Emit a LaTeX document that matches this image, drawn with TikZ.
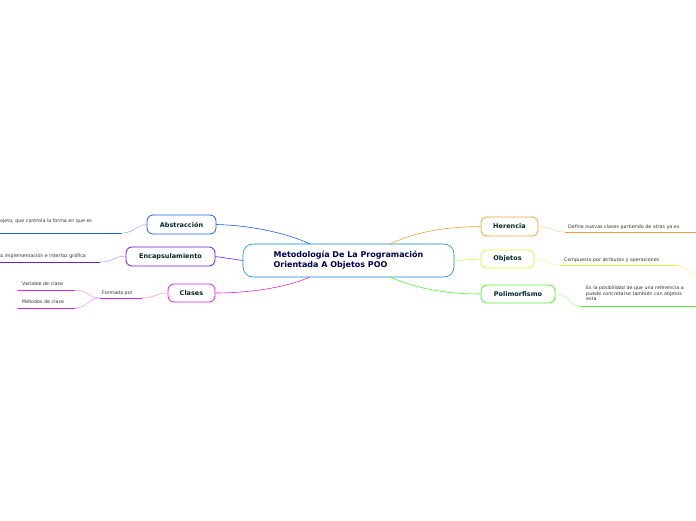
\documentclass[tikz,border=0pt]{standalone}
\usepackage{fontspec}
\setmainfont{DejaVu Sans}
\begin{document}
\begin{tikzpicture}[x=1pt,y=-1pt,
 topic/.style={draw=#1,line width=0.8pt,rounded corners=6pt,fill=white,font=\bfseries\fontsize{6.5}{7}\selectfont,text=black!70!teal,inner sep=0pt},
 leaf/.style={font=\fontsize{4.8}{5.6}\selectfont,text=black!80,inner sep=0pt,anchor=west,align=left},
 con/.style={draw=#1,line width=0.6pt}]
\useasboundingbox (0,0) rectangle (696,520);
\definecolor{kb}{HTML}{1A5FF0}\definecolor{kp}{HTML}{6A1EE0}\definecolor{km}{HTML}{E020E0}
\definecolor{ko}{HTML}{F5A030}\definecolor{ky}{HTML}{E0F040}\definecolor{kg}{HTML}{50F030}
\node[draw=cyan!70!blue,line width=0.6pt,rounded corners=10pt,minimum width=211pt,minimum height=33pt,font=\bfseries\fontsize{8}{10}\selectfont,text=blue!30!black,align=left] (c) at (348.5,260.5) {Metodología De La Programación\\Orientada A Objetos POO};
\node[topic=kb,minimum width=69pt,minimum height=19pt] (abs) at (181.5,224.5) {Abstracción};
\node[topic=kp,minimum width=89pt,minimum height=19pt] (enc) at (170.5,256.5) {Encapsulamiento};
\node[topic=km,minimum width=47pt,minimum height=18pt] (cla) at (191.5,293) {Clases};
\node[topic=ko,minimum width=57pt,minimum height=19pt] (her) at (509.5,226.5) {Herencia};
\node[topic=ky,minimum width=53pt,minimum height=18pt] (obj) at (507.5,259) {Objetos};
\node[topic=kg,minimum width=74pt,minimum height=18pt] (pol) at (518,294) {Polimorfismo};
\coordinate (c1) at (310,244);\coordinate (c2) at (390,244);
\coordinate (c3) at (310,277);\coordinate (c4) at (390,277);
\draw[con=kb] (c1) .. controls (280,230) and (240,225) .. (abs.east);
\draw[con=kp] (c.west) -- (enc.east);
\draw[con=km] (c3) .. controls (280,290) and (240,293) .. (cla.east);
\draw[con=ko] (c2) .. controls (420,230) and (450,227) .. (her.west);
\draw[con=ky] (c.east) -- (obj.west);
\draw[con=kg] (c4) .. controls (420,290) and (450,294) .. (pol.west);
% leaves
\node[leaf] (la) at (0,221) {ojeto, que controla la forma en que es};
\coordinate (a1) at (0,233);\coordinate (a2) at (122,233);
\draw[kb,line width=1pt] (a1) -- (a2);
\draw[kb!50,line width=0.5pt] (a2) .. controls (135,233) and (135,225) .. (abs.west);
\node[leaf] (le) at (0,256) {a implementación e interfaz gráfica};
\coordinate (e1) at (0,262);\coordinate (e2) at (100,262);
\draw[kp,line width=1pt] (e1) -- (e2);
\draw[kp!50,line width=0.5pt] (e2) .. controls (115,262) and (112,256) .. (enc.west);
\node[leaf] (lf) at (102,293) {Formada por};
\coordinate (f1) at (100,298);\coordinate (f2) at (142,298);
\draw[km,line width=1pt] (f1) -- (f2);
\draw[km!50,line width=0.5pt] (f2) .. controls (155,298) and (155,293) .. (cla.west);
\node[leaf] (lv) at (22,284) {Variable de clase};
\coordinate (v1) at (18,290);\coordinate (v2) at (75,290);
\draw[km,line width=1pt] (v1) -- (v2);
\draw[km!50,line width=0.5pt] (v2) .. controls (88,290) and (88,298) .. (f1);
\node[leaf] (lm) at (22,302) {Métodos de clase};
\coordinate (m1) at (18,308);\coordinate (m2) at (75,308);
\draw[km,line width=1pt] (m1) -- (m2);
\draw[km!50,line width=0.5pt] (m2) .. controls (88,308) and (88,298) .. (f1);
\node[leaf] (lh) at (568,227) {Define nuevas clases partiendo de otras ya ex};
\coordinate (h1) at (565,232);\coordinate (h2) at (696,232);
\draw[ko,line width=1pt] (h1) -- (h2);
\draw[ko!50,line width=0.5pt] (her.east) .. controls (555,227) and (552,232) .. (h1);
\node[leaf] (lo) at (564,260) {Compuesto por atributos y operaciones};
\coordinate (o1) at (560,265);\coordinate (o2) at (677,265);\coordinate (o3) at (696,275);
\draw[ky,line width=1pt] (o1) -- (o2);
\draw[ky!60,line width=0.5pt] (obj.east) .. controls (550,259) and (547,265) .. (o1);
\draw[ky!60,line width=0.5pt] (o2) .. controls (686,265) and (688,275) .. (o3);
\node[leaf] (lp) at (586,293.5) {Es la posibilidad de que una referencia a\\puede concretarse también con objetos\\esta};
\coordinate (p1) at (580,306);\coordinate (p2) at (696,306);
\draw[kg,line width=1pt] (p1) -- (p2);
\draw[kg!50,line width=0.5pt] (pol.east) .. controls (570,294) and (568,306) .. (p1);
\end{tikzpicture}
\end{document}
